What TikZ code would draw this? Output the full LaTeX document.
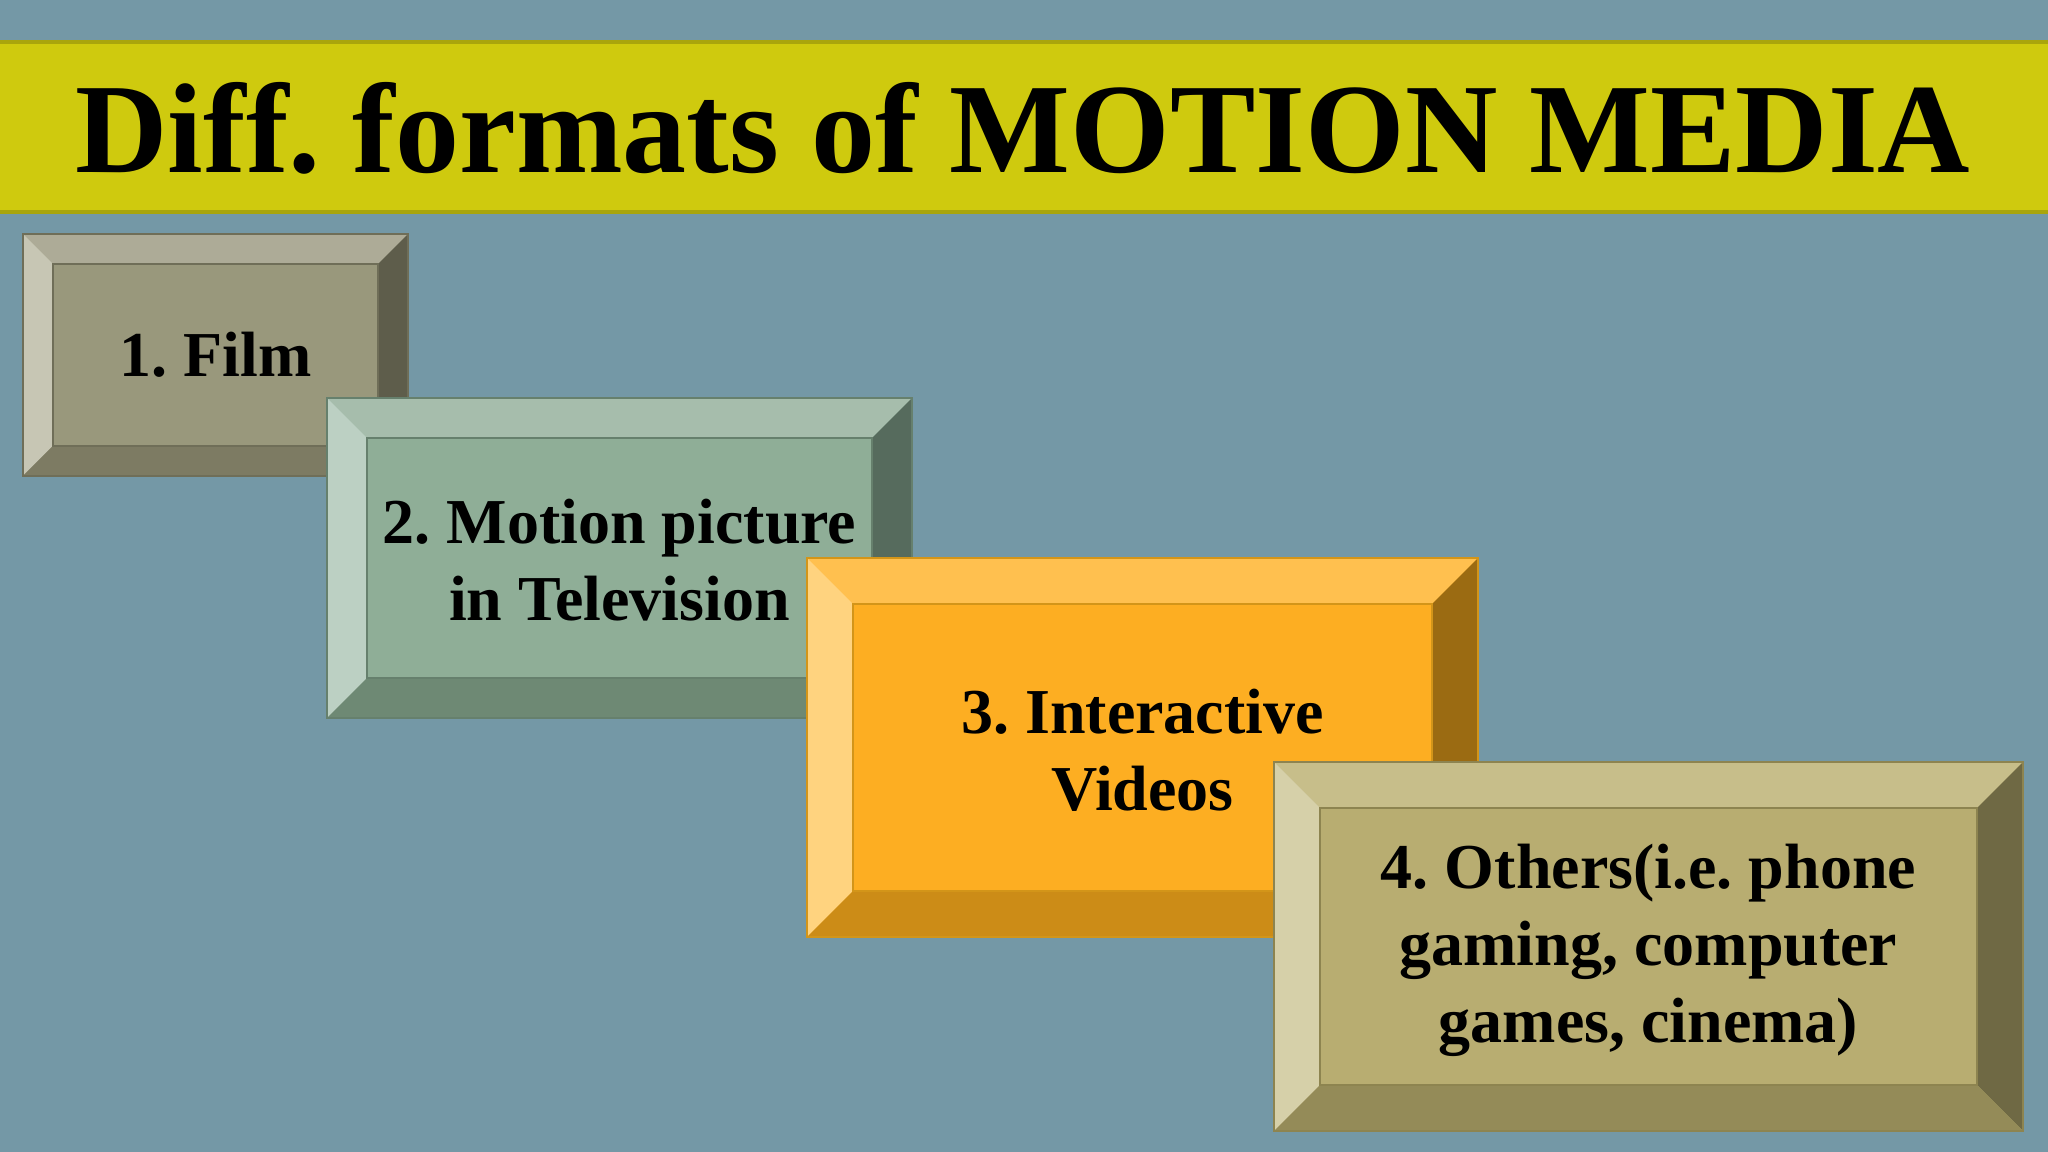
\documentclass[tikz,border=0pt]{standalone}
\usepackage{fontspec}
\setmainfont{Liberation Serif}
\usepackage{tikz}
\usetikzlibrary{calc}
\frenchspacing

\definecolor{bgblue}{HTML}{7498A6}
\definecolor{banner}{HTML}{CFCA0E}
\definecolor{bannerdark}{HTML}{A9A50C}
% one set of colours for each bevelled box
\definecolor{filmface}{HTML}{99987C}
\definecolor{filmtop}{HTML}{ADAB97}
\definecolor{filmleft}{HTML}{C7C6B4}
\definecolor{filmright}{HTML}{5E5D4B}
\definecolor{filmbot}{HTML}{7D7B63}
\definecolor{filmedge}{HTML}{6F6E58}
\definecolor{tvface}{HTML}{8FAE97}
\definecolor{tvtop}{HTML}{A6BDAC}
\definecolor{tvleft}{HTML}{BCD0C3}
\definecolor{tvright}{HTML}{566B5D}
\definecolor{tvbot}{HTML}{6E8974}
\definecolor{tvedge}{HTML}{66806D}
\definecolor{interface}{HTML}{FDAE22}
\definecolor{intertop}{HTML}{FFC04F}
\definecolor{interleft}{HTML}{FFD37F}
\definecolor{interright}{HTML}{9B6B12}
\definecolor{interbot}{HTML}{CC8C17}
\definecolor{interedge}{HTML}{D39519}
\definecolor{otherface}{HTML}{B8AD71}
\definecolor{othertop}{HTML}{C7BE8A}
\definecolor{otherleft}{HTML}{D6D0A9}
\definecolor{otherright}{HTML}{6F6944}
\definecolor{otherbot}{HTML}{948B58}
\definecolor{otheredge}{HTML}{8D8450}

\tikzset{
  titletext/.style={font=\bfseries\fontsize{36.4pt}{40pt}\selectfont,inner sep=0pt,anchor=base},
  boxtext/.style={font=\bfseries\fontsize{18.2pt}{21.9pt}\selectfont,align=center,inner sep=0pt,text=black},
}

% #1,#2 upper left; #3,#4 lower right; #5 bevel; #6 colour prefix
\newcommand{\bevelbox}[6]{%
  \fill[#6face] (#1,#2) rectangle (#3,#4);
  \fill[#6top] (#1,#2) -- (#3,#2) -- (#3-#5,#2+#5) -- (#1+#5,#2+#5) -- cycle;
  \fill[#6left] (#1,#2) -- (#1+#5,#2+#5) -- (#1+#5,#4-#5) -- (#1,#4) -- cycle;
  \fill[#6right] (#3,#2) -- (#3,#4) -- (#3-#5,#4-#5) -- (#3-#5,#2+#5) -- cycle;
  \fill[#6bot] (#1,#4) -- (#3,#4) -- (#3-#5,#4-#5) -- (#1+#5,#4-#5) -- cycle;
  \draw[#6edge,line width=0.5pt] (#1+#5,#2+#5) rectangle (#3-#5,#4-#5);
  \draw[#6edge,line width=0.8pt] (#1,#2) rectangle (#3,#4);
}

\begin{document}
\begin{tikzpicture}[x=0.01cm,y=-0.01cm]
  % background and banner
  \fill[bgblue] (0,0) rectangle (2048,1152);
  \useasboundingbox (0,0) rectangle (2048,1152);
  \fill[banner] (0,42) rectangle (2048,212);
  \draw[bannerdark,line width=1.2pt] (0,42) -- (2048,42);
  \draw[bannerdark,line width=1.2pt] (0,212) -- (2048,212);
  \node[titletext] (title) at (1023,173) {Diff. formats of MOTION MEDIA};

  % boxes
  \bevelbox{23}{234}{408}{476}{30}{film}
  \node[boxtext] (film) at (215.5,355) {1. Film};

  \bevelbox{327}{398}{912}{718}{40}{tv}
  \node[boxtext] (tv) at (619.5,560) {2. Motion picture\\in Television};

  \bevelbox{807}{558}{1478}{937}{46}{inter}
  \node[boxtext] (inter) at (1142.5,750) {3. Interactive\\Videos};

  \bevelbox{1274}{762}{2023}{1131}{46}{other}
  \node[boxtext] (other) at (1648.5,950) {4. Others(i.e. phone\\gaming, computer\\games, cinema)};
\end{tikzpicture}
\end{document}
